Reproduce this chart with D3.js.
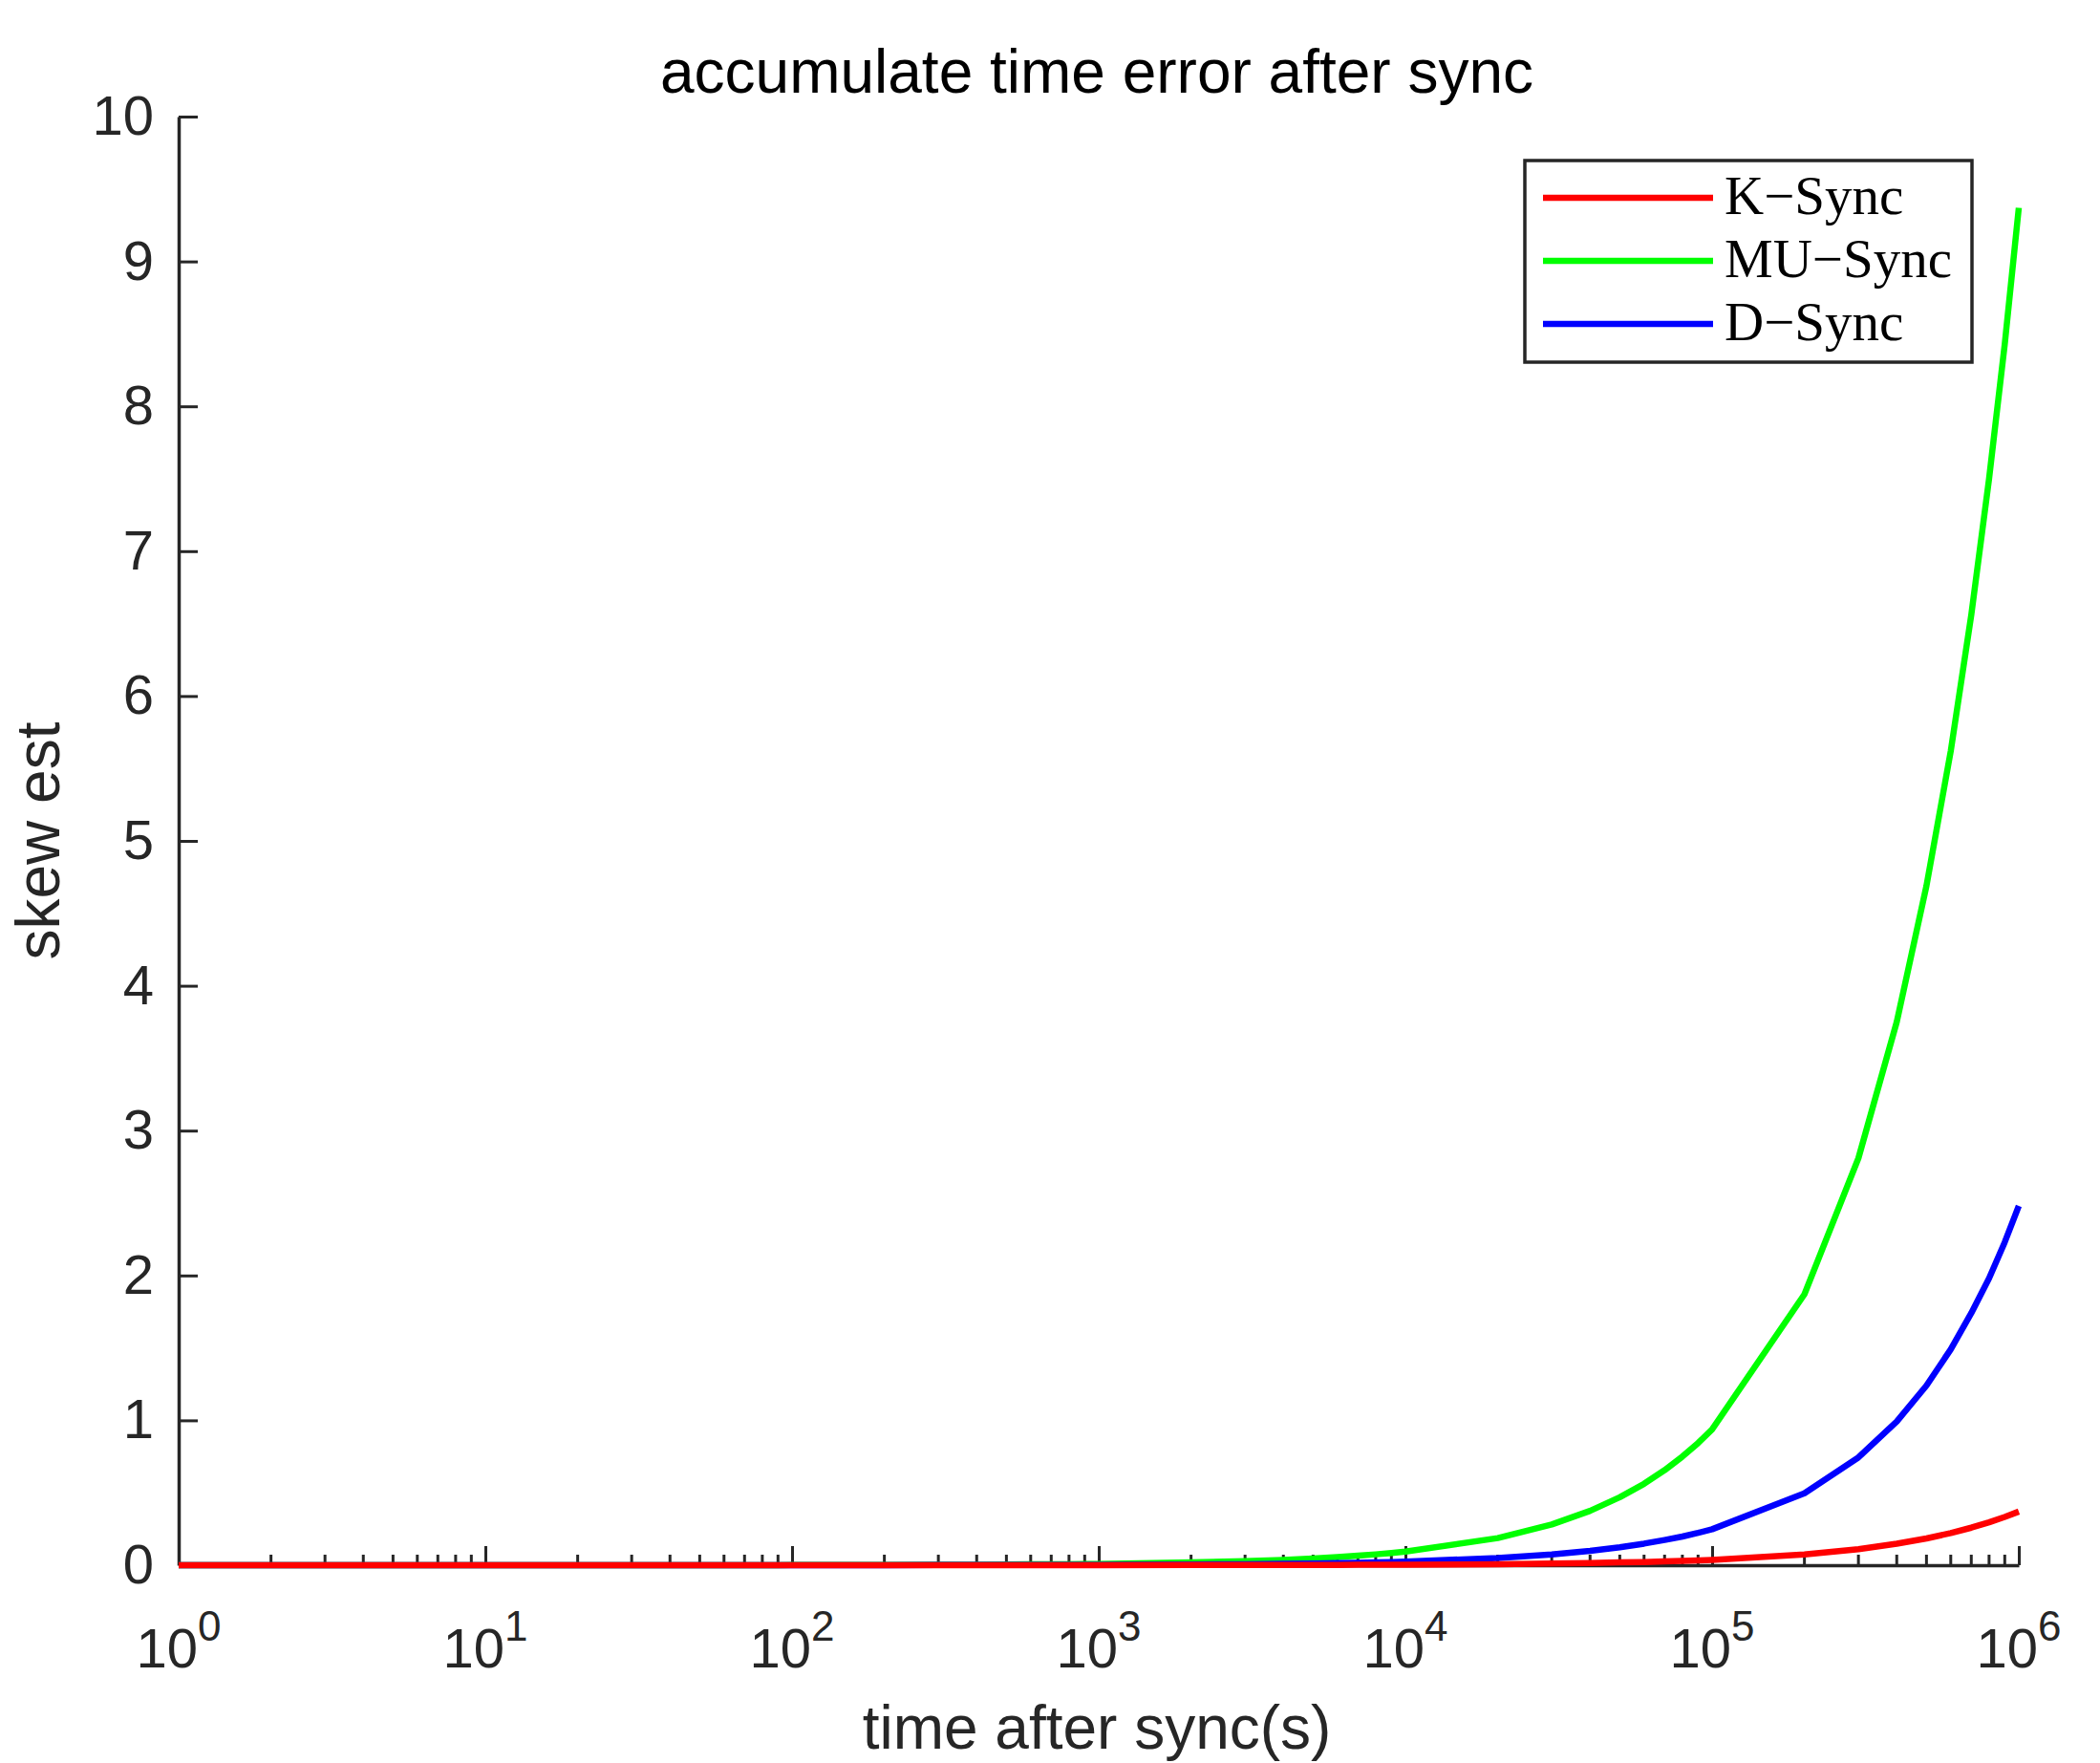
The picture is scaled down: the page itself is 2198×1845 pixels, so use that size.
<!DOCTYPE html>
<html><head><meta charset="utf-8">
<script src="https://cdn.jsdelivr.net/npm/d3@7"></script>
<style>body{margin:0;background:#fff}</style></head>
<body><svg id="c" width="2198" height="1845"></svg>
<script>
const times = [1,2,3,4,5,6,7,8,9,10,20,30,40,50,60,70,80,90,100,200,300,400,500,600,700,800,900,
 1e3,2e3,3e3,4e3,5e3,6e3,7e3,8e3,9e3,1e4,2e4,3e4,4e4,5e4,6e4,7e4,8e4,9e4,1e5,2e5,3e5,4e5,5e5,6e5,7e5,8e5,9e5,1e6];
const kSync = [0,0,0,0,0,0,0,0,0,0,0,0,0,0,0,0,0,0,0,0,0,0,0,0,0,0,0,
 0,0.001,0.001,0.001,0.002,0.002,0.003,0.003,0.003,0.004,0.007,0.011,0.015,0.019,0.022,0.026,0.030,0.033,
 0.037,0.074,0.111,0.148,0.185,0.222,0.259,0.296,0.333,0.37];
const muSync = [0,0,0,0,0,0,0,0,0,0,0,0,0,0,0,0,0,0,0.001,0.002,0.003,0.004,0.005,0.006,0.007,0.007,0.008,
 0.009,0.019,0.028,0.037,0.047,0.056,0.066,0.075,0.084,0.094,0.187,0.281,0.375,0.469,0.562,0.656,0.75,0.843,
 0.937,1.87,2.81,3.75,4.69,5.62,6.56,7.5,8.43,9.37];
const dSync = [0,0,0,0,0,0,0,0,0,0,0,0,0,0,0,0,0,0,0,0,0.001,0.001,0.001,0.001,0.002,0.002,0.002,
 0.002,0.005,0.007,0.010,0.012,0.015,0.017,0.020,0.022,0.025,0.05,0.074,0.099,0.124,0.149,0.174,0.198,0.223,
 0.248,0.496,0.744,0.992,1.24,1.49,1.74,1.98,2.23,2.48];
const seriesNames = ["K\u2212Sync","MU\u2212Sync","D\u2212Sync"];
const seriesColors = ["#ff0000","#00ff00","#0000ff"];
const yTicks = [0,1,2,3,4,5,6,7,8,9,10];
const xMajor = [1,10,100,1e3,1e4,1e5,1e6];

const svg = d3.select("#c");
const L=187,R=2113,T=122,B=1638;
const x = d3.scaleLog().domain([1,1e6]).range([L,R]);
const y = d3.scaleLinear().domain([0,10]).range([B,T]);
const ax="#262626";
const sans="Liberation Sans, Arial, sans-serif";

const ya = svg.append("g").attr("transform",`translate(${L},0)`)
 .call(d3.axisLeft(y).tickValues(yTicks).tickSizeInner(-20).tickSizeOuter(0).tickPadding(26));
ya.select(".domain").attr("stroke",ax).attr("stroke-width",3.5);
ya.selectAll(".tick line").attr("stroke",ax).attr("stroke-width",3);
ya.selectAll("text").attr("font-family",sans).attr("font-size",58).attr("fill",ax);

const minor=[];
for(let e=0;e<6;e++) for(let m=2;m<=9;m++) minor.push(m*Math.pow(10,e));
const xa = svg.append("g").attr("transform",`translate(0,${B})`)
 .call(d3.axisBottom(x).tickValues(xMajor).tickSizeInner(-20).tickSizeOuter(0).tickFormat(""));
xa.select(".domain").attr("stroke",ax).attr("stroke-width",3.5);
xa.selectAll(".tick line").attr("stroke",ax).attr("stroke-width",3);
svg.append("g").selectAll("line").data(minor).join("line")
 .attr("x1",d=>x(d)).attr("x2",d=>x(d)).attr("y1",B).attr("y2",B-11)
 .attr("stroke",ax).attr("stroke-width",3);
const xl = svg.append("g").selectAll("text").data(xMajor).join("text")
 .attr("x",d=>x(d)).attr("y",1745).attr("text-anchor","middle")
 .attr("font-family",sans).attr("font-size",58).attr("fill",ax);
xl.append("tspan").text("10");
xl.append("tspan").attr("dy",-28).attr("font-size",44).text(d=>Math.round(Math.log10(d)));

const data=[kSync,muSync,dSync];
const line=d3.line().x((d,i)=>x(times[i])).y(d=>y(d));
[1,2,0].forEach(s=>{
 svg.append("path").attr("d",line(data[s])).attr("fill","none")
  .attr("stroke",seriesColors[s]).attr("stroke-width",6.5).attr("stroke-linejoin","round");
});

svg.append("text").attr("x",1148).attr("y",97).attr("text-anchor","middle")
 .attr("font-family",sans).attr("font-size",64).attr("fill","#000").text("accumulate time error after sync");
svg.append("text").attr("x",1148).attr("y",1830).attr("text-anchor","middle")
 .attr("font-family",sans).attr("font-size",64).attr("fill",ax).text("time after sync(s)");
svg.append("text").attr("transform","translate(62,880) rotate(-90)").attr("text-anchor","middle")
 .attr("font-family",sans).attr("font-size",64).attr("fill",ax).text("skew est");

const lg=svg.append("g");
lg.append("rect").attr("x",1596).attr("y",168).attr("width",468).attr("height",211)
 .attr("fill","#fff").attr("stroke",ax).attr("stroke-width",3.5);
seriesNames.forEach((n,i)=>{
 const yy=207+i*66;
 lg.append("line").attr("x1",1615).attr("x2",1793).attr("y1",yy).attr("y2",yy)
  .attr("stroke",seriesColors[i]).attr("stroke-width",6.5);
 lg.append("text").attr("x",1805).attr("y",yy+17).attr("font-family","Liberation Serif, DejaVu Serif, serif")
  .attr("font-size",57).attr("fill","#000").text(n);
});
</script></body></html>
